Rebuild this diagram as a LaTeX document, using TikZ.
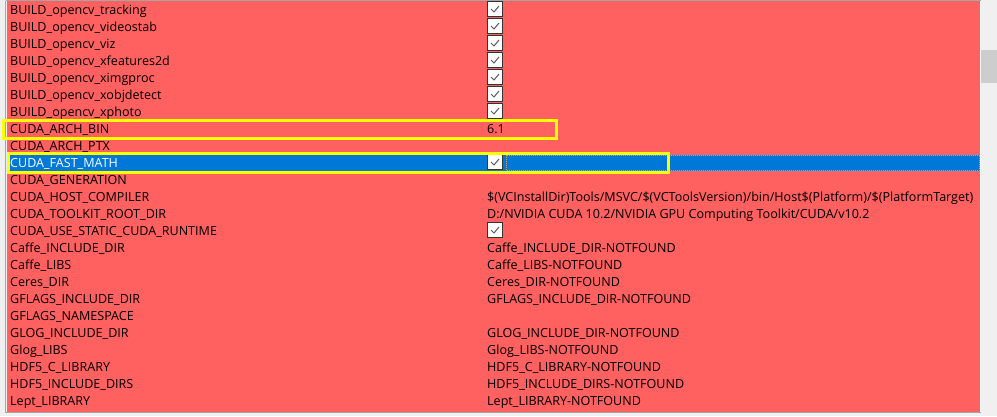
\documentclass[tikz,border=0pt]{standalone}
\usepackage{fontspec}
\setmainfont{Open Sans}
\definecolor{panelgray}{HTML}{F0F0F0}
\definecolor{rowred}{HTML}{FF6060}
\definecolor{rowblue}{HTML}{0078D7}
\definecolor{thumbgray}{HTML}{CDCDCD}
\definecolor{markyellow}{HTML}{FFFF00}
\definecolor{focusorange}{HTML}{E8A040}
\tikzset{
	namecell/.style = {anchor=west, inner sep=0pt, text height=11pt, text depth=3pt, text=black, font=\fontsize{12.55}{14}\selectfont},
	valcell/.style = {namecell},
	checkcell/.style = {draw=black!80, fill=white, line width=.8pt, inner sep=0pt, minimum size=15pt,
		path picture={\draw[black!65, line width=1pt, shift={(path picture bounding box.center)}] (-4,0) -- (-1,3) -- (4,-3);}},
	markbox/.style = {draw=markyellow, line width=3pt}
}
\begin{document}
\begin{tikzpicture}
				[
					x = 1pt,
					y = -1pt
				]
				\useasboundingbox (0,0) rectangle (997,416);
				% window
				\fill[panelgray] (0,0) rectangle (997,416);
				\draw[gray!70, line width=1pt] (5.5,.5) -- (980.5,.5);
				\draw[gray!70, line width=1pt] (5.5,.5) -- (5.5,412.5) -- (980.5,412.5);
				\fill[rowred] (7,1) rectangle (980,412);
				\fill[white] (980,1) rectangle (981,412);
				\node[fill=thumbgray, inner sep=0pt, minimum width=16pt, minimum height=33pt, anchor=north west] (thumb) at (981,50) {};
				% selected row
				\fill[rowblue] (7,155) rectangle (980,171);
				\draw[focusorange, dash pattern=on .8pt off 1.2pt, line width=.7pt] (506.5,155) -- (979.5,155) -- (979.5,170.5) -- (506.5,170.5) -- cycle;
				% first column
				\node[namecell] (tracking) at (10,10) {BUILD\_opencv\_tracking};
				\node[namecell] (videostab) at (10,27) {BUILD\_opencv\_videostab};
				\node[namecell] (viz) at (10,44) {BUILD\_opencv\_viz};
				\node[namecell] (xfeatures) at (10,61) {BUILD\_opencv\_xfeatures2d};
				\node[namecell] (ximgproc) at (10,78) {BUILD\_opencv\_ximgproc};
				\node[namecell] (xobjdetect) at (10,95) {BUILD\_opencv\_xobjdetect};
				\node[namecell] (xphoto) at (10,112) {BUILD\_opencv\_xphoto};
				\node[namecell] (archbin) at (10,129) {CUDA\_ARCH\_BIN};
				\node[namecell] (archptx) at (10,146) {CUDA\_ARCH\_PTX};
				\node[namecell, text=white] (fastmath) at (10,163) {CUDA\_FAST\_MATH};
				\node[namecell] (generation) at (10,180) {CUDA\_GENERATION};
				\node[namecell] (hostcompiler) at (10,197) {CUDA\_HOST\_COMPILER};
				\node[namecell] (toolkit) at (10,214) {CUDA\_TOOLKIT\_ROOT\_DIR};
				\node[namecell] (usestatic) at (10,231) {CUDA\_USE\_STATIC\_CUDA\_RUNTIME};
				\node[namecell] (caffeinc) at (10,248) {Caffe\_INCLUDE\_DIR};
				\node[namecell] (caffelibs) at (10,265) {Caffe\_LIBS};
				\node[namecell] (ceres) at (10,282) {Ceres\_DIR};
				\node[namecell] (gflagsinc) at (10,299) {GFLAGS\_INCLUDE\_DIR};
				\node[namecell] (gflagsns) at (10,316) {GFLAGS\_NAMESPACE};
				\node[namecell] (gloginc) at (10,333) {GLOG\_INCLUDE\_DIR};
				\node[namecell] (gloglibs) at (10,350) {Glog\_LIBS};
				\node[namecell] (hdfc) at (10,367) {HDF5\_C\_LIBRARY};
				\node[namecell] (hdfinc) at (10,384) {HDF5\_INCLUDE\_DIRS};
				\node[namecell] (lept) at (10,401) {Lept\_LIBRARY};
				% second column
				\node[checkcell] (trackingval) at (495,9) {};
				\node[checkcell] (videostabval) at (495,26) {};
				\node[checkcell] (vizval) at (495,43) {};
				\node[checkcell] (xfeaturesval) at (495,60) {};
				\node[checkcell] (ximgprocval) at (495,77) {};
				\node[checkcell] (xobjdetectval) at (495,94) {};
				\node[checkcell] (xphotoval) at (495,111) {};
				\node[valcell] (archbinval) at (487,129) {6.1};
				\node[checkcell] (fastmathval) at (495,162) {};
				\node[valcell] (hostcompilerval) at (487,197) {\$(VCInstallDir)Tools/MSVC/\$(VCToolsVersion)/bin/Host\$(Platform)/\$(PlatformTarget)};
				\node[valcell] (toolkitval) at (487,214) {D:/NVIDIA CUDA 10.2/NVIDIA GPU Computing Toolkit/CUDA/v10.2};
				\node[checkcell] (usestaticval) at (495,230) {};
				\node[valcell] (caffeincval) at (487,248) {Caffe\_INCLUDE\_DIR-NOTFOUND};
				\node[valcell] (caffelibsval) at (487,265) {Caffe\_LIBS-NOTFOUND};
				\node[valcell] (ceresval) at (487,282) {Ceres\_DIR-NOTFOUND};
				\node[valcell] (gflagsincval) at (487,299) {GFLAGS\_INCLUDE\_DIR-NOTFOUND};
				\node[valcell] (glogincval) at (487,333) {GLOG\_INCLUDE\_DIR-NOTFOUND};
				\node[valcell] (gloglibsval) at (487,350) {Glog\_LIBS-NOTFOUND};
				\node[valcell] (hdfcval) at (487,367) {HDF5\_C\_LIBRARY-NOTFOUND};
				\node[valcell] (hdfincval) at (487,384) {HDF5\_INCLUDE\_DIRS-NOTFOUND};
				\node[valcell] (leptval) at (487,401) {Lept\_LIBRARY-NOTFOUND};
				% yellow marks
				\draw[markbox] (3.5,120.5) rectangle (556,138);
				\draw[markbox] (8,153.5) rectangle (668.5,172);
		\end{tikzpicture}
\end{document}
